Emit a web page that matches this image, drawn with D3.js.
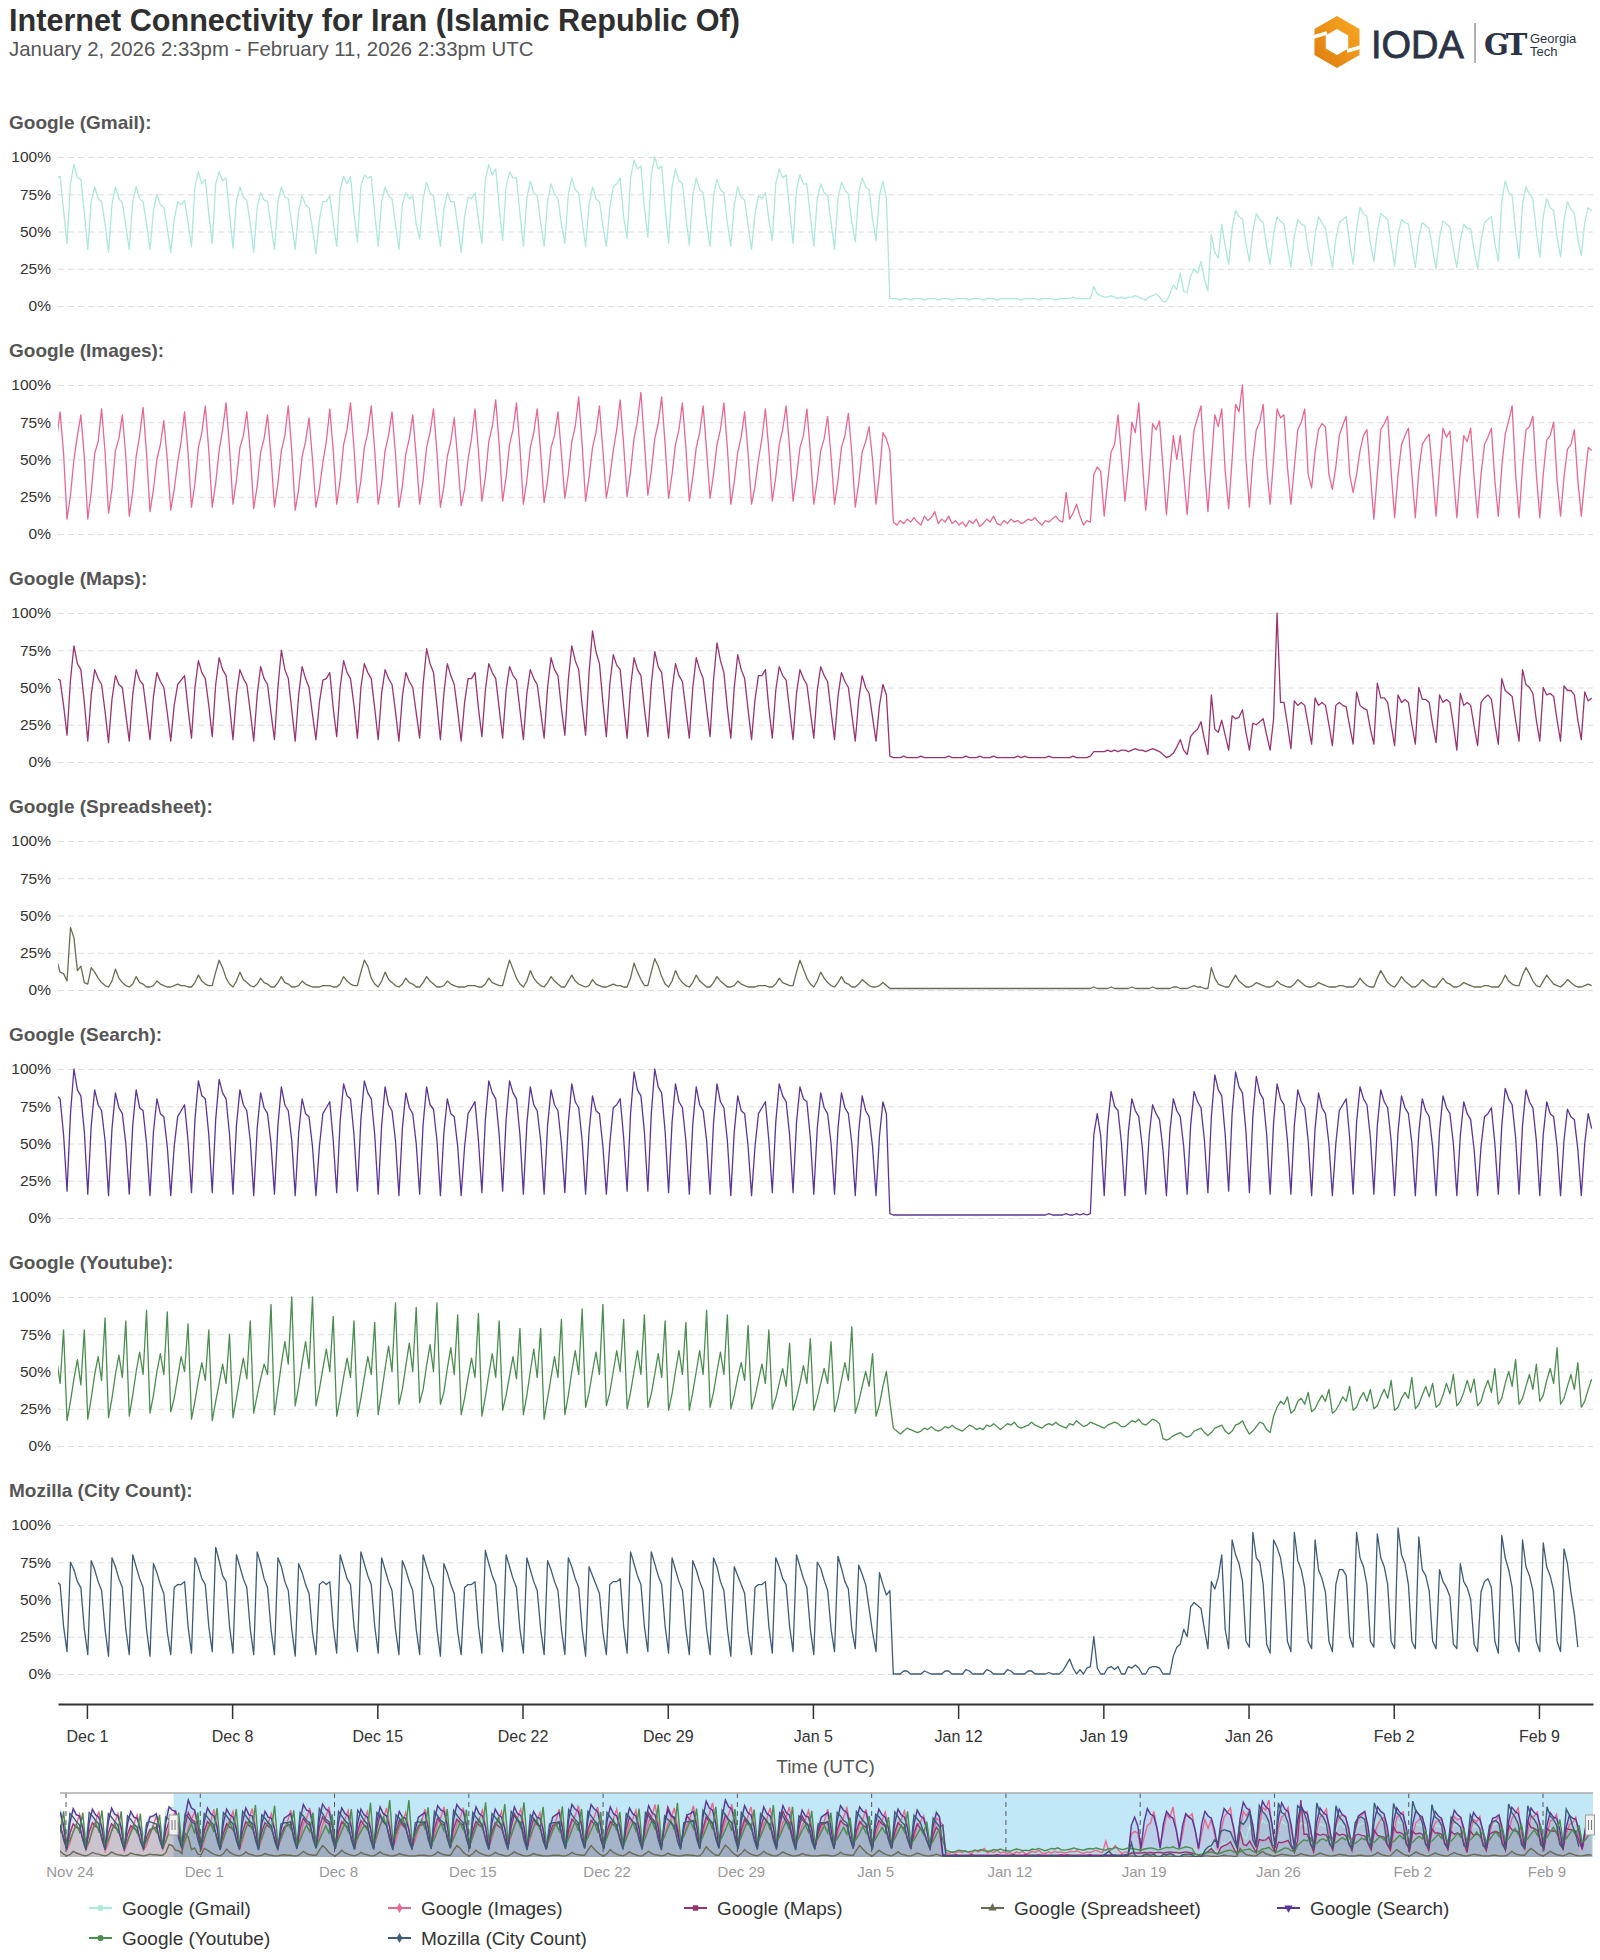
<!DOCTYPE html>
<html lang="en">
<head>
<meta charset="UTF-8">
<title>Internet Connectivity for Iran</title>
<script src="https://d3js.org/d3.v7.min.js"></script>
<style>
  body { margin: 0; background: #fff; }
  svg text { font-family: "Liberation Sans", Arial, sans-serif; }
</style>
</head>
<body>
<svg id="chart"></svg>
<script>
// ---- data (4-hourly samples at 01,05,09,13,17,21 UTC, one row per day, starting Nov 23 2025) ----
const seriesNames = ["Google (Gmail)", "Google (Images)", "Google (Maps)", "Google (Spreadsheet)",
  "Google (Search)", "Google (Youtube)", "Mozilla (City Count)"];
const seriesColors = ["#ade8dc", "#e8688f", "#993470", "#6b6b55", "#5a3597", "#4b8d4f", "#3e5b77"];
const seriesSymbols = ["circle", "diamond", "square", "triangle", "triangle-down", "circle", "diamond"];
const startTime = Date.UTC(2025, 10, 23, 1);
const stepHours = 4;
const percentTicks = [0, 25, 50, 75, 100];
const mainTickDates = ["2025-12-01", "2025-12-08", "2025-12-15", "2025-12-22", "2025-12-29", "2026-01-05",
  "2026-01-12", "2026-01-19", "2026-01-26", "2026-02-02", "2026-02-09"];
const navTickDates = ["2025-11-24"].concat(mainTickDates);

const gmail = [
  [42,80,90,84,82,60],[40,70,82,74,72,56],[38,68,80,72,70,55],[39,70,81,73,70,55],[37,66,76,68,66,52],[40,60,72,70,72,56],[42,78,88,86,87,64],
  [42,82,95,86,85,62],[38,70,80,72,70,55],[36,68,80,72,69,54],[38,70,80,72,70,55],[38,64,75,68,66,52],[36,58,70,68,71,56],[40,80,90,82,85,62],
  [42,82,90,84,86,62],[39,70,80,73,71,55],[36,66,76,71,70,54],[38,70,80,73,72,55],[38,64,74,68,66,52],[35,58,70,70,74,56],[40,78,87,82,87,62],
  [43,80,88,86,87,62],[40,70,80,74,72,55],[38,68,76,72,74,55],[45,72,83,76,74,56],[40,65,76,70,70,54],[36,60,73,72,76,58],[42,85,95,88,92,66],
  [44,80,90,86,86,62],[40,72,84,76,74,56],[40,70,82,75,72,55],[42,75,86,78,76,57],[40,68,80,72,70,54],[40,66,80,82,86,60],[45,86,98,92,94,66],
  [46,88,100,92,94,66],[42,80,92,84,82,60],[41,74,86,78,76,56],[40,74,85,78,76,56],[40,68,80,73,71,54],[38,62,74,72,76,58],[44,82,92,86,88,64],
  [42,78,88,82,82,60],[40,72,82,76,74,56],[38,72,83,78,75,56],[43,76,86,80,78,58],[44,74,84,72,5,5],[5,4,5,5,4,5],[5,5,4,5,5,5],
  [4,5,5,5,4,5],[5,5,5,4,5,5],[5,4,5,5,5,4],[5,5,5,5,5,5],[4,5,5,5,5,4],[5,5,5,5,4,5],[5,5,5,6,5,5],
  [5,5,5,13,8,7],[6,6,7,6,5,6],[5,6,6,7,6,5],[4,6,7,8,6,3],[3,8,14,11,22,10],[9,20,25,22,30,18],[10,48,36,32,55,40],
  [28,52,64,60,58,42],[30,50,62,58,56,40],[28,48,60,57,55,40],[26,47,58,55,54,38],[27,48,60,56,52,38],[26,45,56,58,60,42],[28,52,66,62,60,42],
  [30,50,62,60,58,42],[27,48,58,56,55,40],[26,46,56,54,52,38],[25,46,57,55,53,38],[26,44,55,52,52,37],[25,44,56,58,60,42],[30,70,84,76,74,50],
  [32,68,80,75,72,50],[33,60,72,66,64,46],[33,58,70,65,62,45],[34,56,66,64]
];
const images = [
  [15,28,48,60,78,50],[12,25,45,58,75,48],[12,26,50,62,80,52],[10,24,46,60,76,50],[11,25,48,58,74,48],[12,22,40,55,72,50],[12,28,52,64,82,54],
  [10,26,50,66,80,52],[10,28,54,62,84,55],[14,30,56,64,80,52],[12,28,52,66,85,54],[15,30,50,60,76,50],[16,30,48,62,82,55],[18,34,58,68,86,56],
  [18,34,56,70,88,58],[20,36,58,66,82,55],[17,32,55,64,80,52],[18,34,56,66,86,56],[16,30,52,62,78,50],[18,30,48,62,84,56],[20,36,60,70,88,58],
  [21,36,58,68,86,56],[20,34,56,66,82,54],[18,32,54,64,80,52],[20,36,58,68,84,55],[18,32,52,62,78,50],[19,30,50,64,84,56],[22,38,62,72,90,60],
  [22,38,60,70,88,58],[20,36,58,68,84,55],[21,36,58,66,82,54],[24,40,62,72,92,60],[22,38,58,68,86,56],[24,38,56,70,90,60],[25,42,64,76,95,62],
  [26,42,64,74,92,60],[24,40,60,70,88,58],[22,38,58,68,86,56],[24,40,60,70,88,58],[20,35,55,65,82,54],[20,32,50,64,84,56],[22,38,60,70,86,58],
  [22,38,58,66,84,55],[20,36,56,64,79,52],[20,36,58,66,81,54],[18,34,55,62,72,50],[20,40,68,64,56,8],[6,9,7,10,8,11],[8,6,12,9,11,15],
  [7,10,8,12,7,9],[6,8,5,9,7,10],[5,7,10,8,12,7],[6,9,7,10,8,9],[7,8,10,9,11,8],[6,9,8,10,12,9],[8,28,10,14,20,12],
  [6,9,8,40,45,42],[12,35,55,60,80,52],[22,45,75,68,88,50],[16,40,74,70,76,45],[13,42,66,50,66,40],[13,45,70,78,86,45],[15,48,80,72,84,42],
  [17,50,87,82,100,50],[18,50,70,75,87,45],[20,50,84,78,80,45],[20,45,70,75,84,40],[31,55,70,74,72,40],[30,45,66,73,79,40],[28,40,56,66,70,40],
  [10,40,70,74,79,42],[11,40,60,66,71,40],[11,42,60,64,67,40],[12,45,71,65,69,40],[11,42,66,62,71,38],[11,40,60,65,71,36],[12,45,67,76,86,40],
  [11,45,70,72,79,40],[11,40,63,66,75,36],[12,38,57,60,70,36],[12,36,58,56]
];
const maps = [
  [14,45,62,55,52,35],[15,42,58,52,50,33],[14,44,60,54,50,34],[13,42,58,52,48,32],[14,40,55,50,46,30],[15,35,48,50,52,34],[16,45,62,56,55,38],
  [18,55,78,66,62,40],[14,45,62,56,52,34],[13,42,58,52,50,32],[14,45,62,55,52,34],[15,44,60,54,50,33],[14,38,52,55,58,36],[16,50,68,60,56,38],
  [17,52,70,62,58,38],[15,45,62,56,52,34],[14,45,64,56,52,33],[15,50,75,62,56,35],[14,45,64,56,50,32],[15,40,55,56,60,36],[17,50,68,60,56,38],
  [16,50,66,60,56,36],[15,46,62,56,52,34],[14,44,60,54,50,33],[16,52,76,66,60,38],[15,46,66,58,52,34],[14,40,56,56,60,36],[17,48,66,60,56,36],
  [16,48,64,58,55,35],[15,46,62,56,52,34],[16,50,70,62,58,36],[18,55,78,68,62,38],[18,60,88,74,66,40],[17,52,72,65,62,38],[16,50,70,62,58,36],
  [17,52,74,64,60,38],[16,48,66,58,54,35],[16,50,70,62,56,36],[17,55,80,68,60,36],[16,50,72,62,56,35],[15,42,58,58,62,36],[16,48,64,58,55,35],
  [15,46,62,56,52,34],[16,48,64,58,54,34],[15,44,60,54,50,32],[14,42,58,50,46,30],[14,38,52,45,4,3],[3,3,4,3,3,3],[3,4,3,3,3,3],
  [3,3,3,4,3,3],[3,3,4,3,3,3],[4,3,3,3,4,3],[3,3,3,3,3,4],[3,4,3,3,3,3],[3,3,4,3,3,3],[3,3,3,4,3,3],
  [3,3,4,7,7,7],[7,8,7,8,7,8],[8,7,8,9,8,8],[7,8,9,8,7,5],[3,4,6,10,15,8],[5,17,20,22,27,15],[5,45,22,20,28,18],
  [8,31,29,30,35,20],[8,26,25,27,29,18],[8,29,100,40,40,25],[9,41,38,40,38,25],[12,43,38,40,38,25],[11,38,40,38,37,24],[12,47,38,36,35,22],
  [12,53,43,43,40,25],[11,45,40,42,40,25],[12,50,42,42,40,25],[13,45,40,42,40,25],[8,46,38,40,38,24],[11,40,43,45,42,26],[12,56,48,46,44,28],
  [14,62,52,50,46,28],[14,50,45,46,44,28],[14,51,48,48,45,28],[15,47,41,43]
];
const spreadsheet = [
  [3,8,20,14,10,5],[2,4,10,7,5,3],[2,4,8,6,5,3],[2,4,9,6,4,3],[2,3,7,5,4,3],[2,3,5,4,4,3],[3,8,22,20,12,11],
  [6,42,35,13,16,5],[4,15,12,8,5,3],[2,6,14,8,5,3],[2,4,9,5,4,2],[2,3,6,4,3,2],[2,3,4,3,3,2],[2,5,10,6,4,3],
  [3,12,20,15,8,4],[2,6,12,7,5,3],[2,4,8,5,4,2],[2,5,9,5,4,2],[2,3,6,4,3,2],[2,2,3,3,3,2],[2,4,9,6,4,3],
  [3,12,20,16,8,4],[2,6,12,7,5,3],[2,4,8,5,4,2],[2,5,9,6,4,2],[2,3,6,4,3,2],[2,2,3,3,3,2],[2,4,8,5,4,3],
  [3,12,20,14,8,4],[2,6,13,8,5,3],[2,5,9,6,4,2],[2,6,10,6,4,3],[2,3,7,4,3,2],[2,3,4,3,3,2],[2,8,18,12,7,3],
  [3,12,21,16,9,4],[2,6,13,8,5,3],[2,5,10,6,4,2],[2,5,9,6,4,2],[2,3,6,4,3,2],[2,2,3,3,3,2],[2,4,8,5,4,3],
  [3,12,20,14,8,4],[2,6,12,8,5,3],[2,5,9,5,4,2],[2,4,7,5,3,2],[2,3,5,3,1,1],[1,1,1,1,1,1],[1,1,1,1,1,1],
  [1,1,1,1,1,1],[1,1,1,1,1,1],[1,1,1,1,1,1],[1,1,1,1,1,1],[1,1,1,1,1,1],[1,1,1,1,1,1],[1,1,1,1,1,1],
  [1,1,1,2,1,1],[1,1,2,1,1,1],[1,1,2,1,1,1],[1,1,2,1,1,1],[1,1,2,2,1,1],[1,2,3,2,2,1],[1,15,8,4,3,2],
  [2,6,10,6,4,2],[2,3,5,4,3,2],[2,3,6,4,3,2],[2,4,7,5,3,2],[2,3,5,4,3,2],[2,2,3,3,2,2],[2,4,8,5,3,2],
  [2,8,13,9,5,3],[2,5,9,6,4,2],[2,4,7,5,3,2],[2,5,8,5,4,2],[2,3,5,4,3,2],[2,2,3,3,2,2],[2,5,10,6,4,3],
  [3,10,15,11,6,3],[2,6,10,7,4,3],[2,4,7,5,3,2],[2,3,4,3]
];
const search = [
  [17,65,92,80,78,55],[16,60,85,74,72,50],[15,60,84,74,70,50],[16,62,86,75,72,52],[15,58,80,70,68,48],[16,50,70,72,76,52],[17,62,88,82,80,56],
  [18,70,100,86,82,58],[16,62,86,76,72,52],[15,60,84,74,70,50],[16,62,86,74,72,50],[15,58,80,70,68,48],[15,48,68,72,76,52],[17,66,92,82,80,56],
  [17,66,93,84,80,56],[16,62,86,76,72,52],[15,60,84,74,70,50],[16,62,88,76,72,52],[15,57,80,70,68,48],[15,48,70,74,78,52],[17,65,90,82,80,56],
  [18,66,92,84,80,56],[16,62,88,76,72,52],[15,60,84,74,70,50],[16,63,88,76,73,52],[15,57,80,70,68,48],[15,48,70,74,78,52],[17,66,92,84,80,56],
  [18,66,92,84,80,56],[16,63,88,76,72,52],[16,62,86,76,72,50],[17,64,90,78,74,52],[16,58,82,72,70,48],[16,50,74,76,80,54],[18,70,98,86,82,58],
  [18,70,100,88,84,58],[17,64,90,78,74,52],[16,63,88,76,72,52],[16,64,90,78,74,52],[15,58,82,72,70,48],[15,48,70,74,78,52],[17,64,90,82,78,56],
  [17,64,88,80,78,54],[16,60,84,74,70,50],[16,60,84,74,70,50],[15,58,82,72,68,48],[15,55,78,70,3,2],[2,2,2,2,2,2],[2,2,2,2,2,2],
  [2,2,2,2,2,2],[2,2,2,2,2,2],[2,2,2,2,2,2],[2,2,2,2,2,2],[2,2,2,2,2,2],[2,2,3,2,2,2],[2,3,2,2,3,2],
  [3,2,3,56,70,55],[15,62,85,75,72,50],[15,58,80,72,68,48],[16,55,76,70,66,46],[15,58,80,72,68,48],[16,62,85,78,74,52],[17,68,96,86,82,56],
  [18,70,98,88,84,58],[17,68,95,84,80,56],[16,64,90,80,76,52],[16,62,86,78,74,52],[15,60,84,74,70,50],[15,50,72,76,80,54],[16,64,88,80,76,54],
  [16,62,86,78,74,52],[15,58,82,74,70,50],[15,57,80,72,68,48],[15,58,82,74,70,50],[15,55,78,70,66,46],[15,48,68,70,74,50],[16,62,87,80,76,54],
  [16,62,86,78,74,52],[15,56,78,70,68,48],[15,52,73,68,66,46],[15,50,70,60]
];
const youtube = [
  [20,30,45,58,45,80],[19,30,44,57,44,78],[18,28,46,60,46,82],[19,30,45,58,44,80],[18,28,42,55,42,76],[19,28,40,54,44,74],[18,28,44,58,42,78],
  [17,30,45,58,41,78],[18,32,48,60,44,86],[19,32,48,61,46,84],[20,34,50,63,48,91],[22,34,50,62,48,90],[23,32,46,60,50,82],[18,30,44,56,44,78],
  [17,30,42,55,42,75],[19,32,46,59,45,84],[22,34,45,55,48,95],[21,38,55,70,55,100],[27,40,56,70,52,100],[27,38,52,65,50,87],[20,32,46,59,46,84],
  [20,32,46,60,48,83],[21,36,52,67,50,96],[28,38,54,69,50,93],[29,38,54,68,50,96],[28,36,52,66,48,88],[21,32,46,59,46,89],[20,33,48,62,46,84],
  [24,34,47,60,45,79],[21,34,50,65,46,79],[18,32,46,60,46,85],[21,34,50,64,48,92],[26,36,50,63,48,95],[27,36,50,64,50,85],[25,36,50,64,48,88],
  [26,35,48,62,46,84],[24,35,50,64,48,83],[24,36,50,64,48,91],[26,36,50,63,48,88],[25,34,46,56,44,81],[25,33,44,55,42,78],[25,32,42,52,40,69],
  [24,32,42,54,42,72],[24,32,42,52,42,70],[23,32,44,56,44,80],[22,30,40,50,40,62],[20,28,40,50,30,12],[10,8,10,12,11,10],[9,10,12,11,13,11],
  [10,11,13,12,14,12],[11,10,12,14,13,11],[12,11,14,13,15,13],[11,13,15,14,16,13],[12,13,14,16,14,13],[12,14,15,14,16,14],[13,12,15,14,17,15],
  [13,14,16,15,14,13],[12,14,15,16,15,13],[13,15,17,16,18,15],[14,16,18,17,15,5],[4,5,7,8,9,7],[6,7,10,11,12,9],[7,9,12,13,14,10],
  [8,10,14,15,17,12],[8,10,13,16,15,11],[9,20,26,30,28,33],[22,24,30,32,28,36],[23,25,30,34,30,38],[22,24,28,33,30,40],[24,26,32,36,30,38],
  [25,27,33,38,32,44],[24,26,32,36,32,46],[25,28,34,40,33,42],[26,28,34,42,35,48],[27,30,36,44,36,45],[27,30,38,44,36,52],[28,32,42,50,40,58],
  [28,32,40,48,38,55],[30,34,44,52,42,66],[28,32,40,48,38,56],[26,30,38,45]
];
const mozilla = [
  [14,72,68,60,55,30],[13,76,70,62,56,30],[12,78,72,64,58,30],[13,76,70,62,56,30],[12,72,66,58,52,28],[13,60,62,60,58,30],[14,70,66,62,60,32],
  [15,75,70,62,58,30],[13,76,70,62,56,30],[12,78,72,64,58,30],[13,80,72,64,58,30],[12,74,68,60,54,28],[13,58,60,60,62,32],[14,78,72,64,60,32],
  [15,85,76,66,62,32],[14,80,72,64,58,30],[13,82,74,64,58,30],[13,78,72,62,56,30],[12,74,68,60,54,28],[13,60,62,60,62,32],[14,80,72,64,60,32],
  [15,82,74,66,60,32],[14,78,70,62,56,30],[13,76,70,62,56,30],[13,80,72,64,58,30],[12,74,68,60,54,28],[13,58,60,60,62,32],[14,83,74,66,60,32],
  [15,80,72,64,58,30],[14,78,70,62,56,30],[13,76,70,62,56,30],[13,78,72,64,58,30],[12,72,66,60,54,28],[13,60,62,62,64,32],[14,82,74,66,60,32],
  [15,82,74,66,60,32],[14,78,70,62,56,30],[13,76,70,62,56,30],[13,78,72,62,56,30],[12,72,66,60,54,28],[13,58,60,60,62,32],[14,78,72,64,60,32],
  [15,80,72,64,58,30],[13,75,71,63,56,30],[15,79,71,62,57,30],[17,73,67,60,44,28],[15,68,60,53,56,0],[0,0,2,2,0,0],[0,0,2,1,0,0],
  [0,0,2,2,0,0],[0,0,3,2,0,0],[0,0,3,2,0,0],[0,0,3,2,0,0],[0,0,2,2,0,0],[0,0,1,0,0,0],[2,6,10,4,0,3],
  [0,4,5,25,4,0],[0,4,5,3,5,0],[0,5,4,6,4,0],[0,4,5,5,4,0],[0,0,12,18,20,30],[25,45,48,46,44,30],[17,62,57,65,80,30],
  [17,90,80,74,62,22],[18,95,78,75,60,20],[14,90,85,78,62,22],[15,95,76,70,58,22],[17,90,70,64,55,22],[15,60,70,70,66,25],[18,95,78,72,60,22],
  [18,94,78,72,60,22],[17,98,80,74,60,22],[17,92,70,66,56,22],[17,70,62,58,52,20],[17,74,62,58,50,20],[15,55,62,64,58,22],[14,93,78,70,58,22],
  [15,90,72,66,56,22],[15,88,72,66,56,22],[15,84,74,55,40,18]
];

// ---- layout ----
const width = 1600, height = 1960;
const plotLeft = 58, plotRight = 1593;
const panelTop = 157, panelStep = 228, panelHeight = 149;
const axisY = 1704;
const nav = { left: 60, right: 1593, top: 1793, bottom: 1857 };

const svg = d3.select("#chart").attr("width", width).attr("height", height);
const defs = svg.append("defs");

const seriesData = [gmail, images, maps, spreadsheet, search, youtube, mozilla].map(rows =>
  rows.flat().map((v, i) => ({ t: new Date(startTime + i * stepHours * 3600e3), v })));

const parseDay = d3.utcParse("%Y-%m-%d");
const fmt = d3.utcFormat("%b %-d");

const x = d3.scaleUtc()
  .domain([new Date(Date.UTC(2025, 10, 29, 14, 33)), new Date(Date.UTC(2026, 1, 11, 14, 33))])
  .range([plotLeft, plotRight]);

// header
svg.append("text").attr("x", 9).attr("y", 31)
  .attr("font-size", "30.6px").attr("font-weight", "bold").attr("fill", "#2f2f2f")
  .text("Internet Connectivity for Iran (Islamic Republic Of)");
svg.append("text").attr("x", 9).attr("y", 56)
  .attr("font-size", "20.4px").attr("fill", "#555")
  .text("January 2, 2026 2:33pm - February 11, 2026 2:33pm UTC");

// IODA / Georgia Tech logo
const logo = svg.append("g");
const hex = (cx, cy, r) => d3.range(6).map(k => {
  const a = Math.PI / 3 * k - Math.PI / 2;
  return [cx + r * Math.cos(a), cy + r * Math.sin(a)];
});
const grad = defs.append("linearGradient").attr("id", "hexGrad")
  .attr("x1", "1").attr("y1", "0").attr("x2", "0").attr("y2", "1");
grad.append("stop").attr("offset", "0%").attr("stop-color", "#f8aa22");
grad.append("stop").attr("offset", "100%").attr("stop-color", "#df7a0e");
logo.append("path")
  .attr("d", "M" + hex(1337, 42, 26).join("L") + "Z M" + hex(1337, 42, 13).join("L") + "Z")
  .attr("fill", "url(#hexGrad)").attr("fill-rule", "evenodd");
logo.append("line").attr("x1", 1310).attr("y1", 38).attr("x2", 1327).attr("y2", 33)
  .attr("stroke", "#fff").attr("stroke-width", 3.5);
logo.append("line").attr("x1", 1347).attr("y1", 51).attr("x2", 1364).attr("y2", 46)
  .attr("stroke", "#fff").attr("stroke-width", 3.5);
logo.append("text").attr("x", 1371).attr("y", 58).attr("font-size", "38px")
  .attr("fill", "#2b3345").attr("stroke", "#2b3345").attr("stroke-width", 0.8).text("IODA");
logo.append("line").attr("x1", 1475).attr("y1", 23).attr("x2", 1475).attr("y2", 63)
  .attr("stroke", "#666").attr("stroke-width", 1);
logo.append("text").attr("x", 1484).attr("y", 55).attr("font-size", "29px")
  .attr("font-weight", "bold").attr("fill", "#2b3345").attr("letter-spacing", "-3")
  .style("font-family", "'DejaVu Serif', serif").text("GT");
logo.append("text").attr("x", 1530).attr("y", 43).attr("font-size", "13px").attr("fill", "#2b3345").text("Georgia");
logo.append("text").attr("x", 1530).attr("y", 56).attr("font-size", "13px").attr("fill", "#2b3345").text("Tech");

// clip for panels
defs.append("clipPath").attr("id", "plotClip")
  .append("rect").attr("x", plotLeft).attr("y", 0).attr("width", plotRight - plotLeft).attr("height", height);

// panels
seriesNames.forEach((name, i) => {
  const top = panelTop + i * panelStep;
  const y = d3.scaleLinear().domain([0, 100]).range([top + panelHeight, top]);
  const g = svg.append("g");

  g.append("text").attr("x", 9).attr("y", top - 28)
    .attr("font-size", "19px").attr("font-weight", "bold").attr("fill", "#555")
    .text(name + ":");

  const yAxis = g.append("g").attr("transform", `translate(${plotLeft},0)`)
    .call(d3.axisLeft(y).tickValues(percentTicks).tickFormat(d => d + "%")
      .tickSize(-(plotRight - plotLeft)).tickPadding(7));
  yAxis.select(".domain").remove();
  yAxis.selectAll(".tick line").attr("stroke", "#dcdcdc").attr("stroke-dasharray", "6,4");
  yAxis.selectAll(".tick text").attr("font-size", "15.5px").attr("fill", "#333");

  g.append("path")
    .datum(seriesData[i])
    .attr("clip-path", "url(#plotClip)")
    .attr("fill", "none")
    .attr("stroke", seriesColors[i])
    .attr("stroke-width", 1.3)
    .attr("stroke-linejoin", "round")
    .attr("d", d3.line().x(d => x(d.t)).y(d => y(d.v)));
});

// time axis
const xAxis = svg.append("g").attr("transform", `translate(0,${axisY})`)
  .call(d3.axisBottom(x).tickValues(mainTickDates.map(parseDay)).tickFormat(fmt)
    .tickSize(15).tickSizeOuter(0).tickPadding(12));
xAxis.select(".domain").attr("stroke", "#333").attr("stroke-width", 2);
xAxis.selectAll(".tick line").attr("stroke", "#333").attr("stroke-width", 1.5);
xAxis.selectAll(".tick text").attr("font-size", "16px").attr("fill", "#333");

svg.append("text").attr("x", (plotLeft + plotRight) / 2).attr("y", 1773)
  .attr("text-anchor", "middle").attr("font-size", "19px").attr("fill", "#555")
  .text("Time (UTC)");

// navigator
const xNav = d3.scaleUtc()
  .domain([new Date(Date.UTC(2025, 10, 23, 16, 30)), new Date(Date.UTC(2026, 1, 11, 14, 33))])
  .range([nav.left, nav.right]);
const yNav = d3.scaleLinear().domain([0, 100]).range([nav.bottom, nav.top + 7]);

defs.append("clipPath").attr("id", "navClip")
  .append("rect").attr("x", nav.left).attr("y", nav.top).attr("width", nav.right - nav.left).attr("height", nav.bottom - nav.top);

const selLeft = xNav(x.domain()[0]);
svg.append("rect").attr("x", selLeft).attr("y", nav.top)
  .attr("width", nav.right - selLeft).attr("height", nav.bottom - nav.top)
  .attr("fill", "#c2e8f8");

const navG = svg.append("g").attr("clip-path", "url(#navClip)");
seriesData.forEach((data, i) => {
  navG.append("path").datum(data)
    .attr("fill", seriesColors[i]).attr("fill-opacity", 0.08)
    .attr("d", d3.area().x(d => xNav(d.t)).y0(nav.bottom).y1(d => yNav(d.v)));
});
seriesData.forEach((data, i) => {
  navG.append("path").datum(data)
    .attr("fill", "none").attr("stroke", seriesColors[i]).attr("stroke-width", 1.4)
    .attr("d", d3.line().x(d => xNav(d.t)).y(d => yNav(d.v)));
});

const navTicks = navTickDates.map(parseDay);
svg.append("g").selectAll("line").data(navTicks).join("line")
  .attr("x1", d => xNav(d)).attr("x2", d => xNav(d))
  .attr("y1", nav.top).attr("y2", nav.bottom)
  .attr("stroke", "#555").attr("stroke-width", 1).attr("stroke-dasharray", "5,4");
svg.append("line").attr("x1", nav.left).attr("x2", nav.right).attr("y1", nav.top).attr("y2", nav.top)
  .attr("stroke", "#aaa").attr("stroke-width", 1.5);
svg.append("g").selectAll("text").data(navTicks).join("text")
  .attr("x", d => xNav(d) + 4).attr("y", 1877)
  .attr("text-anchor", "middle").attr("font-size", "15px").attr("fill", "#999")
  .text(fmt);

[selLeft, nav.right - 3].forEach(hx => {
  const h = svg.append("g").attr("transform", `translate(${hx},1825)`);
  h.append("rect").attr("x", -4.5).attr("y", -10).attr("width", 9).attr("height", 20)
    .attr("fill", "#f2f2f2").attr("stroke", "#999");
  h.append("line").attr("x1", -1.5).attr("x2", -1.5).attr("y1", -5).attr("y2", 5).attr("stroke", "#777");
  h.append("line").attr("x1", 1.5).attr("x2", 1.5).attr("y1", -5).attr("y2", 5).attr("stroke", "#777");
});

// legend
const legendCols = [89, 388, 684, 981, 1277];
seriesNames.forEach((name, i) => {
  const lx = legendCols[i % 5], ly = i < 5 ? 1908 : 1938;
  const item = svg.append("g").attr("transform", `translate(${lx},${ly})`);
  item.append("line").attr("x1", 0).attr("x2", 23).attr("stroke", seriesColors[i]).attr("stroke-width", 2);
  const sym = {
    "circle": d3.symbolCircle, "diamond": d3.symbolDiamond, "square": d3.symbolSquare,
    "triangle": d3.symbolTriangle, "triangle-down": d3.symbolTriangle
  }[seriesSymbols[i]];
  item.append("path").attr("d", d3.symbol(sym, 30))
    .attr("transform", `translate(11.5,0)` + (seriesSymbols[i] === "triangle-down" ? " rotate(180)" : ""))
    .attr("fill", seriesColors[i]);
  item.append("text").attr("x", 33).attr("y", 6.5).attr("font-size", "19px").attr("fill", "#333").text(name);
});
</script>
</body>
</html>
